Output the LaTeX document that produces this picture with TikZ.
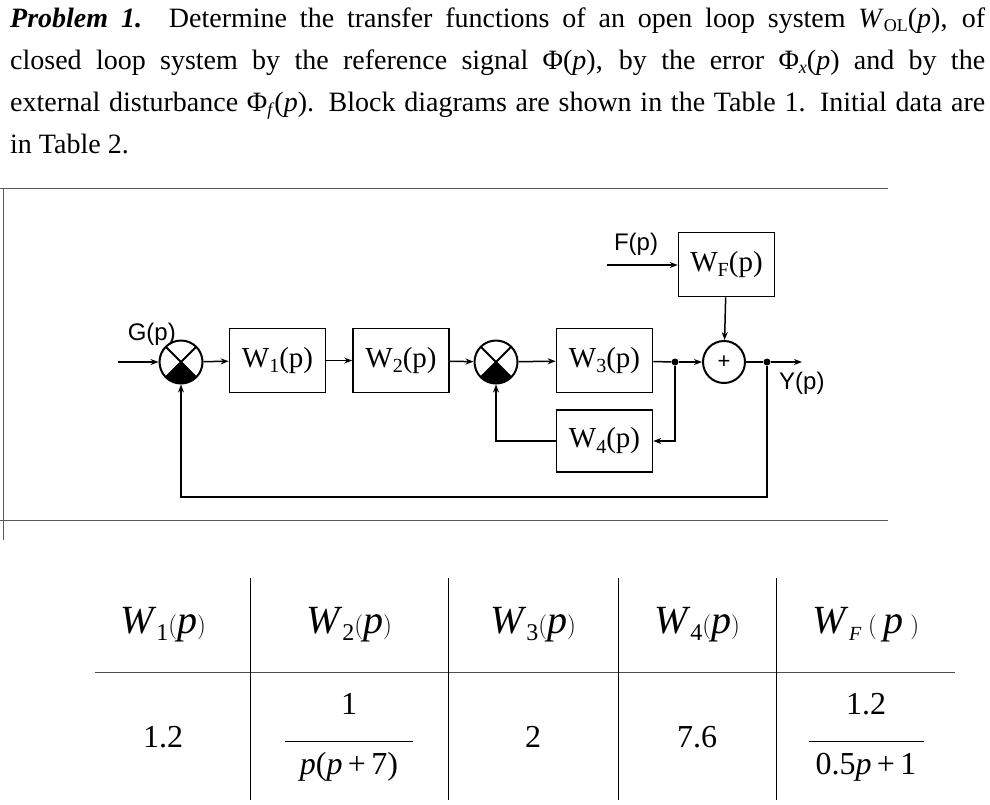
\documentclass[tikz,border=0pt]{standalone}
\usepackage{fontspec}
\usetikzlibrary{arrows.meta}
\setmainfont{Liberation Serif}
\newfontfamily\sans{Liberation Sans}
\begin{document}
\begin{tikzpicture}[x=1pt,y=-1pt,
  blk/.style={draw,line width=1.6pt,minimum width=96pt,minimum height=64pt,inner sep=0pt,font=\fontsize{29}{32}\selectfont},
  sig/.style={line width=1.5pt,-{Stealth[length=8pt,width=6pt]}},
  ln/.style={line width=1.5pt},
  lab/.style={font=\sans\fontsize{24}{28}\selectfont,inner sep=0pt},
  sumc/.style={circle,draw,line width=2pt,minimum size=43pt,inner sep=0pt},
  dot/.style={circle,fill,inner sep=0pt,minimum size=7pt},
  hd/.style={font=\fontsize{40}{44}\selectfont,inner sep=0pt},
  vl/.style={font=\fontsize{32}{36}\selectfont,inner sep=0pt}]
\useasboundingbox (0,0) rectangle (990,804);
\newcommand{\Wsub}[1]{\textit{W}\raisebox{-0.35ex}{\fontsize{24}{26}\selectfont #1}}
\newcommand{\bsub}[1]{\raisebox{-0.4ex}{\fontsize{20}{22}\selectfont #1}}
% paragraph
\node[anchor=north west,inner sep=0pt,text width=975pt,align=justify,font=\fontsize{28}{42}\selectfont] (txt) at (10,8)
{\textbf{\textit{Problem 1.}} Determine the transfer functions of an open loop system \textit{W}\raisebox{-0.3ex}{\fontsize{18}{20}\selectfont OL}(\textit{p}), of\linebreak closed loop system by the reference signal Φ(\textit{p}), by the error Φ\raisebox{-0.3ex}{\fontsize{18}{20}\selectfont\textit{x}}(\textit{p}) and by the\linebreak external disturbance Φ\raisebox{-0.3ex}{\fontsize{18}{20}\selectfont\textit{f}}(\textit{p}). Block diagrams are shown in the Table 1. Initial data are\linebreak in Table~2.};
% frame
\draw[line width=0.8pt,gray!70!black] (0,188) -- (888,188) (3,188) -- (3,540) (0,520) -- (888,520);
% blocks
\node[blk] (w1) at (277.5,360.5) {W\bsub{1}(p)};
\node[blk] (w2) at (401,360.5) {W\bsub{2}(p)};
\node[blk] (w3) at (604.5,360.5) {W\bsub{3}(p)};
\node[blk,minimum height=62pt] (w4) at (604.5,441) {W\bsub{4}(p)};
\node[blk] (wf) at (726.5,264.5) {W\bsub{F}(p)};
% summing junctions
\foreach \n/\x in {s1/181,s2/496}{
  \node[sumc] (\n) at (\x,362) {};
  \fill (\x,362) -- ++(45:21.5) arc[start angle=45,end angle=135,radius=21.5] -- cycle;
  \draw[line width=2pt] (\x,362) ++(45:21.5) -- ++(225:43) (\x,362) ++(135:21.5) -- ++(315:43);
}
\node[sumc,minimum size=42pt,font=\sans\fontsize{22}{24}\selectfont] (s3) at (724,362) {+};
\node[dot] (j1) at (675,362) {};
\node[dot] (j2) at (767,362) {};
% inputs/outputs
\coordinate (gin) at (118,362);
\coordinate (fin) at (607,265);
\coordinate (yout) at (802,362);
\node[lab,anchor=south east] (gl) at (176,346) {G(p)};
\node[lab,anchor=south] (fl) at (636,256) {F(p)};
\node[lab,anchor=north west] (yl) at (779,372) {Y(p)};
% connectors
\draw[sig] (gin) -- (s1);
\draw[sig] (s1) -- (w1);
\draw[sig] (w1) -- (w2);
\draw[sig] (w2) -- (s2);
\draw[sig] (s2) -- (w3);
\draw[ln] (w3) -- (j1);
\draw[sig] (j1) -- (s3);
\draw[ln] (s3) -- (j2);
\draw[sig] (j2) -- (yout);
\draw[sig] (fin) -- (wf.west|-fin);
\draw[sig] (wf) -- (s3);
\draw[sig] (j1) |- (w4.east);
\draw[sig] (w4.west) -| (s2.south);
\draw[sig] (j2) -- (767,497) -| (s1.south);
% table
\draw[line width=0.6pt,gray!60!black] (95,672) -- (955,672);
\foreach \x in {250,448,618,776}{\draw[line width=0.8pt] (\x,578) -- (\x,800);}
\node[hd] (h1) at (163,625) {\Wsub{1}$\bigl($\textit{p}$\bigr)$};
\node[hd] (h2) at (349,625) {\Wsub{2}$\bigl($\textit{p}$\bigr)$};
\node[hd] (h3) at (533,625) {\Wsub{3}$\bigl($\textit{p}$\bigr)$};
\node[hd] (h4) at (697,625) {\Wsub{4}$\bigl($\textit{p}$\bigr)$};
\node[hd] (h5) at (866,625) {\textit{W}\raisebox{-0.35ex}{\fontsize{20}{22}\selectfont\textit{F}}\,$\bigl($\,\textit{p}\,$\bigr)$};
\node[vl] (v1) at (163,737) {1.2};
\node[vl,align=center] (v2) at (349,737) {1\\[-8pt]\rule{128pt}{1.2pt}\\[-4pt]\textit{p}(\textit{p}\,+\,7)};
\node[vl] (v3) at (533,737) {2};
\node[vl] (v4) at (697,737) {7.6};
\node[vl,align=center] (v5) at (866,737) {1.2\\[-8pt]\rule{115pt}{1.2pt}\\[-4pt]0.5\textit{p}\,+\,1};
\end{tikzpicture}
\end{document}
